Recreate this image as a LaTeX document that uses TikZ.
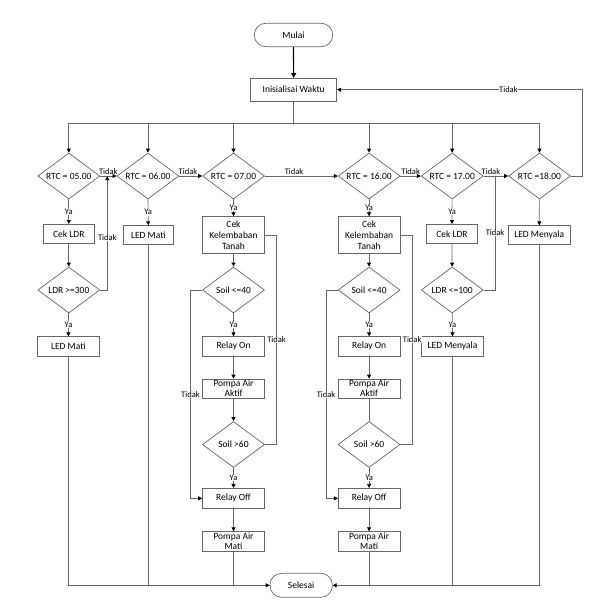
\documentclass[tikz,border=0pt]{standalone}
\usepackage{fontspec}
\setmainfont{Carlito}
\usetikzlibrary{shapes.geometric,arrows.meta}

\begin{document}
\begin{tikzpicture}[x=1pt, y=-1pt,
    line/.style={draw=black!60, line width=0.7pt},
    arr/.style={line, -{Triangle[length=4pt,width=4pt,color=black]}},
    box/.style={draw=black!60, line width=0.7pt, rectangle, inner sep=0pt, align=center, minimum height=19.3pt, font=\fontsize{9.5}{11}\selectfont},
    pompa/.style={font=\fontsize{9.5}{10}\selectfont},
    cond/.style={draw=black!60, line width=0.7pt, diamond, shape aspect=1.35, inner sep=0pt, minimum width=62pt, minimum height=46pt, font=\fontsize{9.5}{11}\selectfont},
    term/.style={draw=black!60, line width=0.7pt, rectangle, rounded corners=11.5pt, inner sep=0pt, minimum height=23.5pt, font=\fontsize{9.5}{11}\selectfont},
    lbl/.style={fill=white, inner sep=0.5pt, font=\fontsize{8.5}{9}\selectfont},
    lbla/.style={above, inner sep=1pt, font=\fontsize{8.5}{9}\selectfont}]
    \useasboundingbox (0,0) rectangle (598,603);

    % Start
    \node[term, minimum width=78.4pt] (mulai) at (293.5,35) {Mulai};
    \node[box, minimum width=86pt, minimum height=22.7pt] (init) at (293.7,89.7) {Inisialisai Waktu};
    \coordinate (bus) at (293.7,123.3);

    % RTC checks
    \node[cond] (rtcA) at (68.8,176) {RTC = 05.00};
    \node[cond] (rtcB) at (147.9,176) {RTC = 06.00};
    \node[cond] (rtcC) at (233.5,176) {RTC = 07.00};
    \node[cond] (rtcD) at (369.1,176) {RTC = 16.00};
    \node[cond] (rtcE) at (452.2,176) {RTC = 17.00};
    \node[cond] (rtcF) at (539.5,176) {RTC =18.00};

    % Branch 05.00
    \node[box, minimum width=51pt] (ldrA) at (68.8,234) {Cek LDR};
    \node[cond] (cmpA) at (68.8,290) {LDR >=300};
    \node[box, minimum width=62pt] (ledA) at (68.3,346.3) {LED Mati};

    % Branch 06.00
    \node[box, minimum width=50pt, minimum height=18.6pt] (ledB) at (148.3,235) {LED Mati};

    % Branch 07.00
    \node[box, minimum width=61.6pt, minimum height=36.6pt] (cekC) at (233.5,235) {Cek\\Kelembaban\\Tanah};
    \node[cond] (lowC) at (233.5,290) {Soil <=40};
    \node[box, minimum width=61.6pt] (onC) at (233.5,346.3) {Relay On};
    \node[box, pompa, minimum width=62.2pt] (aktC) at (233.5,388.7) {Pompa Air\\Aktif};
    \node[cond] (highC) at (233.5,444.5) {Soil >60};
    \node[box, minimum width=62pt, minimum height=20pt] (offC) at (233.5,498.3) {Relay Off};
    \node[box, pompa, minimum width=62pt] (matiC) at (233.5,541.3) {Pompa Air\\Mati};

    % Branch 16.00
    \node[box, minimum width=62.3pt, minimum height=36.6pt] (cekD) at (369.1,235) {Cek\\Kelembaban\\Tanah};
    \node[cond] (lowD) at (369.1,290) {Soil <=40};
    \node[box, minimum width=61.7pt] (onD) at (369.1,346.3) {Relay On};
    \node[box, pompa, minimum width=61.7pt] (aktD) at (369.1,388.7) {Pompa Air\\Aktif};
    \node[cond] (highD) at (369.1,444.5) {Soil >60};
    \node[box, minimum width=61.7pt, minimum height=20pt] (offD) at (369.1,498.3) {Relay Off};
    \node[box, pompa, minimum width=61.7pt] (matiD) at (369.1,541.3) {Pompa Air\\Mati};

    % Branch 17.00
    \node[box, minimum width=50.6pt] (ldrE) at (452,234) {Cek LDR};
    \node[cond] (cmpE) at (452.2,290) {LDR <=100};
    \node[box, minimum width=61.6pt] (ledE) at (452.5,346.3) {LED Menyala};

    % Branch 18.00
    \node[box, minimum width=61.7pt, minimum height=18.6pt] (ledF) at (539.2,235) {LED Menyala};

    % End
    \node[term, minimum width=62.3pt, minimum height=24pt] (selesai) at (301.2,585.3) {Selesai};

    % Start to the checks
    \draw[draw=black, line width=1.2pt, -{Triangle[length=5pt,width=5pt]}] (mulai) -- (init);
    \draw[line] (init) -- (bus);
    \foreach \n in {rtcA,rtcB,rtcC,rtcD,rtcE,rtcF}
        \draw[arr] (bus) -| (\n);

    % Tidak chain
    \draw[arr] (rtcA) -- node[lbla]{Tidak} (rtcB);
    \draw[arr] (rtcB) -- node[lbla, pos=0.38]{Tidak} (rtcC);
    \draw[arr] (rtcC) -- node[lbla, pos=0.4]{Tidak} (rtcD);
    \draw[arr] (rtcD) -- node[lbla]{Tidak} (rtcE);
    \draw[arr] (rtcE) -- node[lbla, pos=0.3]{Tidak} (rtcF);
    \draw[arr] (rtcF.east) -- ++(11,0) |- node[lbl, pos=0.65]{Tidak} (init);

    % 05.00
    \coordinate (jA) at (107.3,176);
    \draw[arr] (rtcA) -- node[lbl]{Ya} (ldrA);
    \draw[arr] (ldrA) -- (cmpA);
    \draw[arr] (cmpA) -- node[lbl]{Ya} (ledA);
    \draw[arr] (cmpA) -| node[lbl, pos=0.73]{Tidak} (jA);

    % 06.00
    \draw[arr] (rtcB) -- node[lbl]{Ya} (ledB);

    % 07.00
    \draw[arr] (rtcC) -- node[lbl]{Ya} (cekC);
    \draw[arr] (cekC) -- (lowC);
    \draw[arr] (lowC) -- node[lbl]{Ya} (onC);
    \draw[arr] (onC) -- (aktC);
    \draw[arr] (aktC) -- (highC);
    \draw[arr] (highC) -- node[lbl]{Ya} (offC);
    \draw[arr] (offC) -- (matiC);
    \draw[arr] (lowC.west) -- ++(-11.7,0) |- node[lbl, pos=0.25]{Tidak} (offC);
    \draw[line] (highC.east) -- ++(11.7,0) |- node[lbl, pos=0.25]{Tidak} (cekC);

    % 16.00
    \draw[arr] (rtcD) -- node[lbl]{Ya} (cekD);
    \draw[arr] (cekD) -- (lowD);
    \draw[arr] (lowD) -- node[lbl]{Ya} (onD);
    \draw[arr] (onD) -- (aktD);
    \draw[line] (aktD) -- (highD);
    \draw[arr] (highD) -- node[lbl]{Ya} (offD);
    \draw[arr] (offD) -- (matiD);
    \draw[arr] (lowD.west) -- ++(-11.7,0) |- node[lbl, pos=0.25]{Tidak} (offD);
    \draw[line] (highD.east) -- ++(11.7,0) |- node[lbl, pos=0.25]{Tidak} (cekD);

    % 17.00
    \coordinate (jE) at (495,176);
    \draw[arr] (rtcE) -- node[lbl]{Ya} (ldrE);
    \draw[arr] (ldrE) -- (cmpE);
    \draw[arr] (cmpE) -- node[lbl]{Ya} (ledE);
    \draw[line] (cmpE) -| node[lbl, pos=0.75]{Tidak} (jE);

    % 18.00
    \draw[arr] (rtcF) -- (ledF);

    % To the end
    \draw[arr] (ledA) |- (selesai);
    \draw[line] (ledB) -- (ledB |- selesai);
    \draw[line] (matiC) -- (matiC |- selesai);
    \draw[line] (matiD) -- (matiD |- selesai);
    \draw[line] (ledE) -- (ledE |- selesai);
    \draw[arr] (ledF) |- (selesai);
\end{tikzpicture}
\end{document}
